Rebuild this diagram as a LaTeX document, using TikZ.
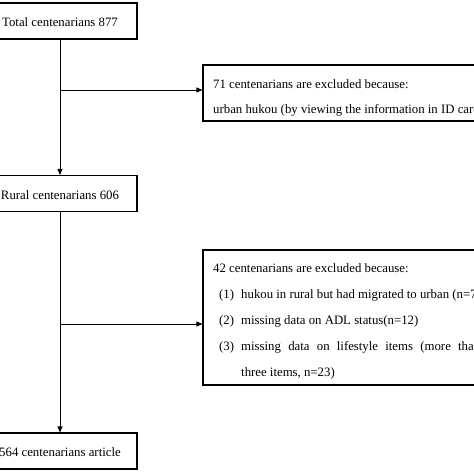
\documentclass[tikz,border=0pt]{standalone}
\usepackage{fontspec}
\setmainfont{Liberation Serif}
\usetikzlibrary{arrows.meta}
\begin{document}
\begin{tikzpicture}[x=1pt,y=-1pt,
  box/.style={draw, line width=1.1pt, inner sep=0pt},
  lbox/.style={box, minimum width=154pt, minimum height=36pt, text height=11pt, text depth=0pt,
    font=\fontsize{12.8}{15}\selectfont},
  rbox/.style={box, minimum width=357pt},
  conn/.style={line width=0.8pt, -{Triangle[length=6pt,width=5pt]}},
  txt/.style={anchor=base west, inner sep=0pt, font=\fontsize{12.8}{15}\selectfont}]
\useasboundingbox (0,0) rectangle (474,474);
\clip (0,0) rectangle (474,474);
% left column
\node[lbox] (total) at (60,21) {Total centenarians 877};
\node[lbox] (rural) at (60,193.5) {Rural centenarians 606};
\node[lbox] (final) at (60,451) {564 centenarians article};
% exclusion boxes
\node[rbox, minimum height=56pt] (ex1) at (381.5,93) {};
\node[rbox, minimum height=135pt] (ex2) at (381.5,317.5) {};
% text of exclusion box 1
\node[txt] (e1a) at (213,88) {71 centenarians are excluded because:};
\node[txt] (e1b) at (213,113) {urban hukou (by viewing the information in ID card)};
% text of exclusion box 2
\node[txt] (e2a) at (213,272) {42 centenarians are excluded because:};
\node[txt] (n1) at (219,298) {(1)};
\node[txt] (e2b) at (241,298) {hukou in rural but had migrated to urban (n=7)};
\node[txt] (n2) at (219,324) {(2)};
\node[txt] (e2c) at (241,324) {missing data on ADL status(n=12)};
\node[txt] (n3) at (219,350) {(3)};
\node[txt] (e2d) at (241,350) {\makebox[239pt][s]{missing data on lifestyle items (more than}};
\node[txt] (e2e) at (241,376) {three items, n=23)};
% connectors
\coordinate (j1) at (60,90);
\coordinate (j2) at (60,324);
\draw[conn] (total.south) -- (rural.north);
\draw[conn] (rural.south) -- (final.north);
\draw[conn] (j1) -- (j1 -| ex1.west);
\draw[conn] (j2) -- (j2 -| ex2.west);
\end{tikzpicture}
\end{document}
